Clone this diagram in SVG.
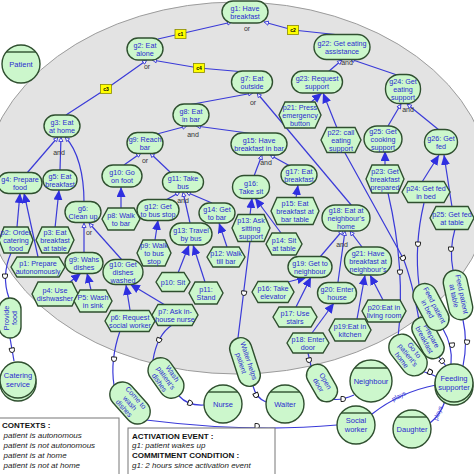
<svg xmlns="http://www.w3.org/2000/svg" xmlns:xlink="http://www.w3.org/1999/xlink" width="474" height="474" viewBox="0 0 474 474">
<style>
.e{fill:#e3e3e3;stroke:#9c9c9c;stroke-width:1}
.n{fill:#ccf7cc;stroke:#2f4f2f;stroke-width:1.4}
.t{font-family:"Liberation Sans",Arial,sans-serif;font-size:7.2px;fill:#2b2bd0;text-anchor:middle}
.at{font-family:"Liberation Sans",Arial,sans-serif;font-size:7.5px;fill:#2b2bd0;text-anchor:middle}
.lbl{font-family:"Liberation Sans",Arial,sans-serif;font-size:7px;fill:#333;text-anchor:middle}
.c{fill:none;stroke:#3a3ad8;stroke-width:1.2}
.cb{fill:#ffff00;stroke:#8a8a00;stroke-width:0.8}
.ct{font-family:"Liberation Sans",Arial,sans-serif;font-size:5px;font-weight:bold;fill:#000;text-anchor:middle}
.pl{font-family:"Liberation Sans",Arial,sans-serif;font-size:6.5px;fill:#3a3ad8;text-anchor:middle}
.leg{fill:#fff;stroke:#777;stroke-width:1}
.lb{font-family:"Liberation Sans",Arial,sans-serif;font-size:8px;font-weight:bold;fill:#111}
.li{font-family:"Liberation Sans",Arial,sans-serif;font-size:8px;font-style:italic;fill:#222}
</style>
<defs>
<marker id="mf" viewBox="0 0 10 9" refX="10" refY="4.5" markerWidth="10" markerHeight="9" markerUnits="userSpaceOnUse" orient="auto"><path d="M0,0 L10,4.5 L0,9 z" fill="#2f2fe0"/></marker>
<marker id="mo" viewBox="0 0 8 8" refX="7.5" refY="4" markerWidth="5.5" markerHeight="5.5" markerUnits="userSpaceOnUse" orient="auto"><path d="M1,1 L7,4 L1,7 z" fill="#fff" stroke="#3a3ad8" stroke-width="1.3"/></marker>
<path id="dm" d="M-2,-2.5 H0 A2.5,2.5 0 0 1 0,2.5 H-2 Z" fill="#fff" stroke="#111" stroke-width="0.9"/>
</defs>

<ellipse class="e" cx="237" cy="188" rx="254" ry="186"/>

<g id="connectors">
<!-- decompositions -->
<path class="c" d="M158,39 L232,22" marker-end="url(#mo)"/>
<path class="c" d="M340,35 L293,30 L264,22" marker-end="url(#mo)"/>
<path class="c" d="M66,115 L106,89 L147,60" marker-end="url(#mo)"/>
<path class="c" d="M245,72 L199,68 L152,60" marker-end="url(#mo)"/>
<path class="c" d="M188,105 L253,93" marker-end="url(#mo)"/>
<path class="c" d="M352,206 L257,93" marker-end="url(#mo)"/>
<path class="c" d="M157,134 L187,126" marker-end="url(#mo)"/>
<path class="c" d="M255,134 L196,126" marker-end="url(#mo)"/>
<path class="c" d="M328,72 L342,60" marker-end="url(#mo)"/>
<path class="c" d="M400,76 L350,59" marker-end="url(#mo)"/>
<path class="c" d="M388,126 L401,104" marker-end="url(#mo)"/>
<path class="c" d="M439,130 L407,104" marker-end="url(#mo)"/>
<path class="c" d="M27,173 L58,137" marker-end="url(#mo)"/>
<path class="c" d="M60,170 L61,137" marker-end="url(#mo)"/>
<path class="c" d="M84,202 C84,175 78,150 65,137" marker-end="url(#mo)"/>
<path class="c" d="M84,252 L84,223" marker-end="url(#mo)"/>
<path class="c" d="M122,260 L89,223" marker-end="url(#mo)"/>
<path class="c" d="M124,165 L141,153" marker-end="url(#mo)"/>
<path class="c" d="M170,172 L150,153" marker-end="url(#mo)"/>
<path class="c" d="M254,176 L262,155" marker-end="url(#mo)"/>
<path class="c" d="M290,166 L270,155" marker-end="url(#mo)"/>
<path class="c" d="M166,200 L180,192" marker-end="url(#mo)"/>
<path class="c" d="M190,223 L183,192" marker-end="url(#mo)"/>
<path class="c" d="M212,203 L186,192" marker-end="url(#mo)"/>
<path class="c" d="M320,257 L343,230" marker-end="url(#mo)"/>
<path class="c" d="M338,282 L345,231" marker-end="url(#mo)"/>
<path class="c" d="M362,247 L350,231" marker-end="url(#mo)"/>
<!-- means-end -->
<path class="c" d="M310,103 L322,93" marker-end="url(#mf)"/>
<path class="c" d="M337,128 L323,93" marker-end="url(#mf)"/>
<path class="c" d="M385,165 L385,151" marker-end="url(#mf)"/>
<path class="c" d="M422,182 L439,155" marker-end="url(#mf)"/>
<path class="c" d="M452,207 L444,155" marker-end="url(#mf)"/>
<path class="c" d="M17,227 L20,193" marker-end="url(#mf)"/>
<path class="c" d="M38,257 L24,193" marker-end="url(#mf)"/>
<path class="c" d="M55,228 L59,190" marker-end="url(#mf)"/>
<path class="c" d="M121,208 L121,187" marker-end="url(#mf)"/>
<path class="c" d="M155,240 L158,220" marker-end="url(#mf)"/>
<path class="c" d="M178,273 L189,245" marker-end="url(#mf)"/>
<path class="c" d="M205,282 L193,245" marker-end="url(#mf)"/>
<path class="c" d="M227,247 L219,223" marker-end="url(#mf)"/>
<path class="c" d="M250,215 L252,198" marker-end="url(#mf)"/>
<path class="c" d="M281,233 L255,198" marker-end="url(#mf)"/>
<path class="c" d="M296,198 L298,185" marker-end="url(#mf)"/>
<path class="c" d="M284,283 L307,277" marker-end="url(#mf)"/>
<path class="c" d="M296,307 L311,277" marker-end="url(#mf)"/>
<path class="c" d="M312,333 L334,303" marker-end="url(#mf)"/>
<path class="c" d="M357,319 L365,275" marker-end="url(#mf)"/>
<path class="c" d="M383,300 L370,275" marker-end="url(#mf)"/>
<path class="c" d="M70,282 L81,273" marker-end="url(#mf)"/>
<path class="c" d="M91,290 L87,273" marker-end="url(#mf)"/>
<path class="c" d="M130,310 L126,285" marker-end="url(#mf)"/>
<path class="c" d="M165,305 L130,284" marker-end="url(#mf)"/>
<!-- dependencies -->
<path class="c" d="M11,253 Q1,276 9,298"/>
<path class="c" d="M10,338 L14,361"/>
<path class="c" d="M120,331 Q110,360 114,385"/>
<path class="c" d="M146,420 Q250,433 337,425"/>
<path class="c" d="M172,325 Q157,335 153,360"/>
<path class="c" d="M179,396 Q188,406 204,405"/>
<path class="c" d="M250,241 L238,338"/>
<path class="c" d="M253,386 Q256,398 266,402"/>
<path class="c" d="M308,353 L311,366"/>
<path class="c" d="M332,399 Q340,401 354,395"/>
<path class="c" d="M345,153 L403,258 Q412,280 419,320"/>
<path class="c" d="M388,193 Q406,270 398,338"/>
<path class="c" d="M424,203 Q414,245 419,285"/>
<path class="c" d="M455,229 Q449,250 453,270"/>
<path class="c" d="M421,371 Q430,373 437,377"/>
<path class="c" d="M438,356 L446,366"/>
<path class="c" d="M443,329 Q453,346 451,364"/>
<path class="c" d="M463,320 Q468,342 463,366"/>
<path class="c" d="M372,414 Q400,392 436,385"/>
<path class="c" d="M430,423 Q441,414 445,401"/>
<use href="#dm" transform="translate(5,276) rotate(90)"/>
<use href="#dm" transform="translate(12,350) rotate(80)"/>
<use href="#dm" transform="translate(114,359) rotate(95)"/>
<use href="#dm" transform="translate(257,426) rotate(0)"/>
<use href="#dm" transform="translate(159,340) rotate(110)"/>
<use href="#dm" transform="translate(190,403) rotate(20)"/>
<use href="#dm" transform="translate(244,293) rotate(97)"/>
<use href="#dm" transform="translate(256,395) rotate(65)"/>
<use href="#dm" transform="translate(309,360) rotate(78)"/>
<use href="#dm" transform="translate(343,399) rotate(0)"/>
<use href="#dm" transform="translate(403,258) rotate(62)"/>
<use href="#dm" transform="translate(400,272) rotate(88)"/>
<use href="#dm" transform="translate(418,244) rotate(92)"/>
<use href="#dm" transform="translate(451,249) rotate(92)"/>
<use href="#dm" transform="translate(430,372) rotate(25)"/>
<use href="#dm" transform="translate(442,361) rotate(52)"/>
<use href="#dm" transform="translate(452,345) rotate(85)"/>
<use href="#dm" transform="translate(467,342) rotate(95)"/>
<text class="pl" transform="translate(400,398) rotate(-28)">plays</text>
<text class="pl" transform="translate(440,414) rotate(-68)">plays</text>
<!-- or / and labels -->
<text class="lbl" x="247" y="31">or</text>
<text class="lbl" x="147" y="69">or</text>
<text class="lbl" x="59" y="155">and</text>
<text class="lbl" x="253" y="105">or</text>
<text class="lbl" x="347" y="65">and</text>
<text class="lbl" x="408" y="112">and</text>
<text class="lbl" x="193" y="137">and</text>
<text class="lbl" x="145" y="163">or</text>
<text class="lbl" x="266" y="165">and</text>
<text class="lbl" x="183" y="203">and</text>
<text class="lbl" x="89" y="235">or</text>
<text class="lbl" x="342" y="247">and</text>
<!-- contribution boxes -->
<rect class="cb" x="175" y="29.5" width="11" height="9"/><text class="ct" x="180.5" y="35.8">c1</text>
<rect class="cb" x="287.5" y="25.5" width="11" height="9"/><text class="ct" x="293" y="31.8">c2</text>
<rect class="cb" x="100.5" y="84.5" width="11" height="9"/><text class="ct" x="106" y="90.8">c3</text>
<rect class="cb" x="193.5" y="63.5" width="11" height="9"/><text class="ct" x="199" y="69.8">c4</text>
</g>

<!-- goals -->
<g id="g1" transform="translate(245,12)"><rect class="n" x="-23" y="-11" width="46" height="22" rx="11"/><text class="t"><tspan x="0" y="-1.5">g1: Have</tspan><tspan x="0" y="6.5">breakfast</tspan></text></g>
<g id="g2" transform="translate(145,49)"><rect class="n" x="-18" y="-11" width="36" height="22" rx="11"/><text class="t"><tspan x="0" y="-1.5">g2: Eat</tspan><tspan x="0" y="6.5">alone</tspan></text></g>
<g id="g3" transform="translate(62,126)"><rect class="n" x="-18" y="-11" width="36" height="22" rx="11"/><text class="t"><tspan x="0" y="-1.5">g3: Eat</tspan><tspan x="0" y="6.5">at home</tspan></text></g>
<g id="g7" transform="translate(252,82)"><rect class="n" x="-20.5" y="-11" width="41" height="22" rx="11"/><text class="t"><tspan x="0" y="-1.5">g7: Eat</tspan><tspan x="0" y="6.5">outside</tspan></text></g>
<g id="g22" transform="translate(342,47)"><rect class="n" x="-28" y="-12.5" width="56" height="25" rx="12.5"/><text class="t"><tspan x="0" y="-1.5">g22: Get eating</tspan><tspan x="0" y="6.5">assistance</tspan></text></g>
<g id="g23" transform="translate(317,82)"><rect class="n" x="-25.5" y="-11" width="51" height="22" rx="11"/><text class="t"><tspan x="0" y="-1.5">g23: Request</tspan><tspan x="0" y="6.5">support</tspan></text></g>
<g id="g24" transform="translate(403,89)"><rect class="n" x="-17.5" y="-14.5" width="35" height="29" rx="14"/><text class="t"><tspan x="0" y="-5.5">g24: Get</tspan><tspan x="0" y="2.5">eating</tspan><tspan x="0" y="10.5">support</tspan></text></g>
<g id="g25" transform="translate(383,139)"><rect class="n" x="-19" y="-13" width="38" height="26" rx="13"/><text class="t"><tspan x="0" y="-5.5">g25: Get</tspan><tspan x="0" y="2.5">cooking</tspan><tspan x="0" y="10.5">support</tspan></text></g>
<g id="g26" transform="translate(441,142)"><rect class="n" x="-16.5" y="-12.5" width="33" height="25" rx="12.5"/><text class="t"><tspan x="0" y="-1.5">g26: Get</tspan><tspan x="0" y="6.5">fed</tspan></text></g>
<g id="g8" transform="translate(191,115)"><rect class="n" x="-18" y="-11" width="36" height="22" rx="11"/><text class="t"><tspan x="0" y="-1.5">g8: Eat</tspan><tspan x="0" y="6.5">in bar</tspan></text></g>
<g id="g9" transform="translate(145,143)"><rect class="n" x="-18" y="-10.5" width="36" height="21" rx="10.5"/><text class="t"><tspan x="0" y="-1.5">g9: Reach</tspan><tspan x="0" y="6.5">bar</tspan></text></g>
<g id="g15" transform="translate(259,144)"><rect class="n" x="-28" y="-11" width="56" height="22" rx="11"/><text class="t"><tspan x="0" y="-1.5">g15: Have</tspan><tspan x="0" y="6.5">breakfast in bar</tspan></text></g>
<g id="g4" transform="translate(20,183)"><rect class="n" x="-22" y="-10.5" width="44" height="21" rx="10.5"/><text class="t"><tspan x="0" y="-1.5">g4: Prepare</tspan><tspan x="0" y="6.5">food</tspan></text></g>
<g id="g5" transform="translate(60,180)"><rect class="n" x="-17" y="-10" width="34" height="20" rx="10"/><text class="t"><tspan x="0" y="-1.5">g5: Eat</tspan><tspan x="0" y="6.5">breakfast</tspan></text></g>
<g id="g10" transform="translate(122,176)"><rect class="n" x="-20" y="-11" width="40" height="22" rx="11"/><text class="t"><tspan x="0" y="-1.5">g10: Go</tspan><tspan x="0" y="6.5">on foot</tspan></text></g>
<g id="g6" transform="translate(83,212)"><rect class="n" x="-18" y="-10.5" width="36" height="21" rx="10.5"/><text class="t"><tspan x="0" y="-1.5">g6:</tspan><tspan x="0" y="6.5">Clean up</tspan></text></g>
<g id="g12" transform="translate(158,210)"><rect class="n" x="-21" y="-10.5" width="42" height="21" rx="10.5"/><text class="t"><tspan x="0" y="-1.5">g12: Get</tspan><tspan x="0" y="6.5">to bus stop</tspan></text></g>
<g id="g11" transform="translate(183,182)"><rect class="n" x="-20.5" y="-10" width="41" height="20" rx="10"/><text class="t"><tspan x="0" y="-1.5">g11: Take</tspan><tspan x="0" y="6.5">bus</tspan></text></g>
<g id="g16" transform="translate(251,187)"><rect class="n" x="-18.5" y="-11.5" width="37" height="23" rx="11.5"/><text class="t"><tspan x="0" y="-1.5">g16:</tspan><tspan x="0" y="6.5">Take sit</tspan></text></g>
<g id="g17" transform="translate(299,175)"><rect class="n" x="-18" y="-10" width="36" height="20" rx="10"/><text class="t"><tspan x="0" y="-1.5">g17: Eat</tspan><tspan x="0" y="6.5">breakfast</tspan></text></g>
<g id="g14" transform="translate(217,213)"><rect class="n" x="-18" y="-10" width="36" height="20" rx="10"/><text class="t"><tspan x="0" y="-1.5">g14: Get</tspan><tspan x="0" y="6.5">to bar</tspan></text></g>
<g id="g13" transform="translate(191,234)"><rect class="n" x="-21" y="-11" width="42" height="22" rx="11"/><text class="t"><tspan x="0" y="-1.5">g13: Travel</tspan><tspan x="0" y="6.5">by bus</tspan></text></g>
<g id="g18" transform="translate(346,218)"><rect class="n" x="-24" y="-13" width="48" height="26" rx="13"/><text class="t"><tspan x="0" y="-5.5">g18: Eat at</tspan><tspan x="0" y="2.5">neighbour's</tspan><tspan x="0" y="10.5">home</tspan></text></g>
<g id="g19" transform="translate(310,267)"><rect class="n" x="-22" y="-10.5" width="44" height="21" rx="10.5"/><text class="t"><tspan x="0" y="-1.5">g19: Get to</tspan><tspan x="0" y="6.5">neighbour</tspan></text></g>
<g id="g21" transform="translate(368,261)"><rect class="n" x="-23.5" y="-14" width="47" height="28" rx="14"/><text class="t"><tspan x="0" y="-5.5">g21: Have</tspan><tspan x="0" y="2.5">breakfast at</tspan><tspan x="0" y="10.5">neighbour's</tspan></text></g>
<g id="g20" transform="translate(337,293)"><rect class="n" x="-19.5" y="-10.5" width="39" height="21" rx="10.5"/><text class="t"><tspan x="0" y="-1.5">g20: Enter</tspan><tspan x="0" y="6.5">house</tspan></text></g>
<g id="g9w" transform="translate(84,263)"><rect class="n" x="-19" y="-10.5" width="38" height="21" rx="10.5"/><text class="t"><tspan x="0" y="-1.5">g9: Wahs</tspan><tspan x="0" y="6.5">dishes</tspan></text></g>
<g id="g10w" transform="translate(123,272)"><rect class="n" x="-20" y="-12.5" width="40" height="25" rx="12.5"/><text class="t"><tspan x="0" y="-5.5">g10: Get</tspan><tspan x="0" y="2.5">dishes</tspan><tspan x="0" y="10.5">washed</tspan></text></g>

<!-- plans -->
<g id="p21" transform="translate(300,115)"><polygon class="n" points="-21,0 -15,-13 15,-13 21,0 15,13 -15,13"/><text class="t"><tspan x="0" y="-5.5">p21: Press</tspan><tspan x="0" y="2.5">emergency</tspan><tspan x="0" y="10.5">button</tspan></text></g>
<g id="p22" transform="translate(341,140)"><polygon class="n" points="-20,0 -14,-12.5 14,-12.5 20,0 14,12.5 -14,12.5"/><text class="t"><tspan x="0" y="-5.5">p22: call</tspan><tspan x="0" y="2.5">eating</tspan><tspan x="0" y="10.5">support</tspan></text></g>
<g id="p23" transform="translate(385,179)"><polygon class="n" points="-19,0 -13,-14 13,-14 19,0 13,14 -13,14"/><text class="t"><tspan x="0" y="-5.5">p23: Get</tspan><tspan x="0" y="2.5">breakfast</tspan><tspan x="0" y="10.5">prepared</tspan></text></g>
<g id="p24" transform="translate(426,192)"><polygon class="n" points="-24,0 -18,-10.5 18,-10.5 24,0 18,10.5 -18,10.5"/><text class="t"><tspan x="0" y="-1.5">p24: Get fed</tspan><tspan x="0" y="6.5">in bed</tspan></text></g>
<g id="p25" transform="translate(452,218)"><polygon class="n" points="-22,0 -16,-11.5 16,-11.5 22,0 16,11.5 -16,11.5"/><text class="t"><tspan x="0" y="-1.5">p25: Get fed</tspan><tspan x="0" y="6.5">at table</tspan></text></g>
<g id="p8" transform="translate(121,219)"><polygon class="n" points="-19,0 -13,-11 13,-11 19,0 13,11 -13,11"/><text class="t"><tspan x="0" y="-1.5">p8: Walk</tspan><tspan x="0" y="6.5">to bar</tspan></text></g>
<g id="p9" transform="translate(154,253)"><polygon class="n" points="-17,0 -11,-13 11,-13 17,0 11,13 -11,13"/><text class="t"><tspan x="0" y="-5.5">p9: Walk</tspan><tspan x="0" y="2.5">to bus</tspan><tspan x="0" y="10.5">stop</tspan></text></g>
<g id="p12" transform="translate(226,257)"><polygon class="n" points="-19,0 -13,-10 13,-10 19,0 13,10 -13,10"/><text class="t"><tspan x="0" y="-1.5">p12: Walk</tspan><tspan x="0" y="6.5">till bar</tspan></text></g>
<g id="p13" transform="translate(251,228)"><polygon class="n" points="-19,0 -13,-13.5 13,-13.5 19,0 13,13.5 -13,13.5"/><text class="t"><tspan x="0" y="-5.5">p13: Ask</tspan><tspan x="0" y="2.5">sitting</tspan><tspan x="0" y="10.5">support</tspan></text></g>
<g id="p15" transform="translate(295,211)"><polygon class="n" points="-24,0 -18,-13.5 18,-13.5 24,0 18,13.5 -18,13.5"/><text class="t"><tspan x="0" y="-5.5">p15: Eat</tspan><tspan x="0" y="2.5">breakfast at</tspan><tspan x="0" y="10.5">bar table</tspan></text></g>
<g id="p14" transform="translate(284,244)"><polygon class="n" points="-18,0 -12,-11 12,-11 18,0 12,11 -12,11"/><text class="t"><tspan x="0" y="-1.5">p14: Sit</tspan><tspan x="0" y="6.5">at table</tspan></text></g>
<g id="p16" transform="translate(273,292)"><polygon class="n" points="-21,0 -15,-10.5 15,-10.5 21,0 15,10.5 -15,10.5"/><text class="t"><tspan x="0" y="-1.5">p16: Take</tspan><tspan x="0" y="6.5">elevator</tspan></text></g>
<g id="p17" transform="translate(295,317)"><polygon class="n" points="-22,0 -16,-10 16,-10 22,0 16,10 -16,10"/><text class="t"><tspan x="0" y="-1.5">p17: Use</tspan><tspan x="0" y="6.5">stairs</tspan></text></g>
<g id="p18" transform="translate(308,343)"><polygon class="n" points="-21,0 -15,-10 15,-10 21,0 15,10 -15,10"/><text class="t"><tspan x="0" y="-1.5">p18: Enter</tspan><tspan x="0" y="6.5">door</tspan></text></g>
<g id="p19" transform="translate(350,330)"><polygon class="n" points="-21,0 -15,-11 15,-11 21,0 15,11 -15,11"/><text class="t"><tspan x="0" y="-1.5">p19:Eat in</tspan><tspan x="0" y="6.5">kitchen</tspan></text></g>
<g id="p20" transform="translate(384,311)"><polygon class="n" points="-22,0 -16,-11 16,-11 22,0 16,11 -16,11"/><text class="t"><tspan x="0" y="-1.5">p20:Eat in</tspan><tspan x="0" y="6.5">living room</tspan></text></g>
<g id="p2" transform="translate(16,240)"><polygon class="n" points="-17,0 -12,-13 12,-13 17,0 12,13 -12,13"/><text class="t"><tspan x="0" y="-5.5">p2: Order</tspan><tspan x="0" y="2.5">catering</tspan><tspan x="0" y="10.5">food</tspan></text></g>
<g id="p3" transform="translate(55,240)"><polygon class="n" points="-19,0 -13,-13 13,-13 19,0 13,13 -13,13"/><text class="t"><tspan x="0" y="-5.5">p3: Eat</tspan><tspan x="0" y="2.5">breakfast</tspan><tspan x="0" y="10.5">at table</tspan></text></g>
<g id="p1" transform="translate(38,267)"><polygon class="n" points="-27,0 -21,-10 21,-10 27,0 21,10 -21,10"/><text class="t"><tspan x="0" y="-1.5">p1: Prepare</tspan><tspan x="0" y="6.5">autonomously</tspan></text></g>
<g id="p4" transform="translate(55,294)"><polygon class="n" points="-23,0 -17,-12 17,-12 23,0 17,12 -17,12"/><text class="t"><tspan x="0" y="-1.5">p4: Use</tspan><tspan x="0" y="6.5">dishwasher</tspan></text></g>
<g id="P5" transform="translate(93,301)"><polygon class="n" points="-19,0 -13,-11 13,-11 19,0 13,11 -13,11"/><text class="t"><tspan x="0" y="-1.5">P5: Wash</tspan><tspan x="0" y="6.5">in sink</tspan></text></g>
<g id="p6" transform="translate(130,321)"><polygon class="n" points="-25,0 -19,-10.5 19,-10.5 25,0 19,10.5 -19,10.5"/><text class="t"><tspan x="0" y="-1.5">p6: Request</tspan><tspan x="0" y="6.5">social worker</tspan></text></g>
<g id="p7" transform="translate(175,315)"><polygon class="n" points="-23,0 -17,-10.5 17,-10.5 23,0 17,10.5 -17,10.5"/><text class="t"><tspan x="0" y="-1.5">p7: Ask in-</tspan><tspan x="0" y="6.5">house nurse</tspan></text></g>
<g id="p10" transform="translate(173,282)"><polygon class="n" points="-17,0 -11,-9.5 11,-9.5 17,0 11,9.5 -11,9.5"/><text class="t"><tspan x="0" y="2.5">p10: Sit</tspan></text></g>
<g id="p11" transform="translate(206,293)"><polygon class="n" points="-17,0 -11,-11 11,-11 17,0 11,11 -11,11"/><text class="t"><tspan x="0" y="-1.5">p11:</tspan><tspan x="0" y="6.5">Stand</tspan></text></g>

<!-- dependums (rotated goals) -->
<g id="provide_food" transform="translate(10,318) rotate(-90)"><rect class="n" x="-20" y="-11" width="40" height="22" rx="11"/><text class="t"><tspan x="0" y="-1.5">Provide</tspan><tspan x="0" y="6.5">food</tspan></text></g>
<g id="come_wash" transform="translate(130,403) rotate(48)"><rect class="n" x="-24" y="-12.5" width="48" height="25" rx="12.5"/><text class="t"><tspan x="0" y="-5.5">Come to</tspan><tspan x="0" y="2.5">wash</tspan><tspan x="0" y="10.5">dishes</tspan></text></g>
<g id="wash_patient" transform="translate(166,378) rotate(55)"><rect class="n" x="-22" y="-12.5" width="44" height="25" rx="12.5"/><text class="t"><tspan x="0" y="-5.5">Wash</tspan><tspan x="0" y="2.5">patient's</tspan><tspan x="0" y="10.5">dishes</tspan></text></g>
<g id="waiter_helps" transform="translate(245,362) rotate(72)"><rect class="n" x="-25" y="-11" width="50" height="22" rx="11"/><text class="t"><tspan x="0" y="-1.5">Waiter helps</tspan><tspan x="0" y="6.5">patient</tspan></text></g>
<g id="open_door" transform="translate(322,383) rotate(60)"><rect class="n" x="-20" y="-11" width="40" height="22" rx="11"/><text class="t"><tspan x="0" y="-1.5">Open</tspan><tspan x="0" y="6.5">door</tspan></text></g>
<g id="go_home" transform="translate(408,355) rotate(52)"><rect class="n" x="-23" y="-13" width="46" height="26" rx="13"/><text class="t"><tspan x="0" y="-5.5">Go to</tspan><tspan x="0" y="2.5">patient's</tspan><tspan x="0" y="10.5">home</tspan></text></g>
<g id="prep_breakfast" transform="translate(428,338) rotate(62)"><rect class="n" x="-22" y="-11" width="44" height="22" rx="11"/><text class="t"><tspan x="0" y="-1.5">Prepare</tspan><tspan x="0" y="6.5">breakfast</tspan></text></g>
<g id="feed_bed" transform="translate(431,307) rotate(62)"><rect class="n" x="-25" y="-12" width="50" height="24" rx="12"/><text class="t"><tspan x="0" y="-1.5">Feed patient</tspan><tspan x="0" y="6.5">in bed</tspan></text></g>
<g id="feed_table" transform="translate(458,295) rotate(78)"><rect class="n" x="-25" y="-12" width="50" height="24" rx="12"/><text class="t"><tspan x="0" y="-1.5">Feed patient</tspan><tspan x="0" y="6.5">at table</tspan></text></g>

<!-- actors and roles -->
<g id="patient"><circle class="n" cx="21" cy="64" r="19"/><line x1="6.3" y1="52" x2="35.7" y2="52" stroke="#2f4f2f" stroke-width="1.4"/><text class="at" x="21" y="67">Patient</text></g>
<g id="catering"><circle class="n" cx="18" cy="383" r="18"/><circle class="n" cx="18" cy="380" r="18"/><text class="at"><tspan x="18" y="378">Catering</tspan><tspan x="18" y="386.5">service</tspan></text></g>
<g id="nurse"><circle class="n" cx="223" cy="404" r="19"/><line x1="208.3" y1="392" x2="237.7" y2="392" stroke="#2f4f2f" stroke-width="1.4"/><text class="at" x="223" y="407">Nurse</text></g>
<g id="waiter"><circle class="n" cx="285" cy="404" r="19"/><line x1="270.3" y1="392" x2="299.7" y2="392" stroke="#2f4f2f" stroke-width="1.4"/><text class="at" x="285" y="407">Waiter</text></g>
<g id="neighbour"><circle class="n" cx="371" cy="381" r="21"/><line x1="354.8" y1="368" x2="387.2" y2="368" stroke="#2f4f2f" stroke-width="1.4"/><text class="at" x="371" y="384">Neighbour</text></g>
<g id="social_worker"><circle class="n" cx="356" cy="425" r="19"/><line x1="341.3" y1="413" x2="370.7" y2="413" stroke="#2f4f2f" stroke-width="1.4"/><text class="at"><tspan x="356" y="423">Social</tspan><tspan x="356" y="431.5">worker</tspan></text></g>
<g id="daughter"><circle class="n" cx="412" cy="429" r="19"/><line x1="397.3" y1="417" x2="426.7" y2="417" stroke="#2f4f2f" stroke-width="1.4"/><text class="at" x="412" y="432">Daughter</text></g>
<g id="feeding_supporter"><circle class="n" cx="454" cy="386" r="19"/><circle class="n" cx="454" cy="383" r="19"/><text class="at"><tspan x="454" y="381">Feeding</tspan><tspan x="454" y="389.5">supporter</tspan></text></g>

<!-- legends -->
<g id="contexts"><rect class="leg" x="-5" y="418" width="124" height="62"/><text class="lb" x="2" y="428">CONTEXTS :</text><text class="li" x="3.5" y="438">patient is autonomous</text><text class="li" x="3.5" y="448">patient is not autonomous</text><text class="li" x="3.5" y="458">patient is at home</text><text class="li" x="3.5" y="468">patient is not at home</text></g>
<g id="activation"><rect class="leg" x="128" y="428" width="147" height="52"/><text class="lb" x="132" y="438.5">ACTIVATION EVENT :</text><text class="li" x="132" y="448">g1: patient wakes up</text><text class="lb" x="132" y="458">COMMITMENT CONDITION :</text><text class="li" x="132" y="468">g1: 2 hours since activation event</text></g>
</svg>
